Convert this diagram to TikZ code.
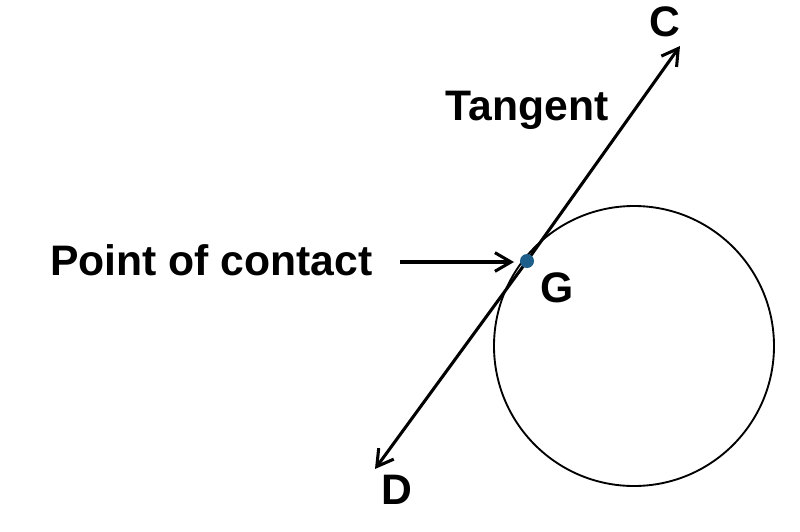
\documentclass[tikz,border=0pt]{standalone}
\usepackage{fontspec}
\setmainfont{Liberation Sans}
\usetikzlibrary{arrows.meta}
\begin{document}
\begin{tikzpicture}[x=0.75pt,y=-0.75pt,
  lbl/.style={font=\fontsize{32}{36}\selectfont\bfseries,inner sep=0pt},
  arr/.style={line width=2.3pt,-{Straight Barb[length=12pt,width=14pt,line width=2.3pt]}}]
\useasboundingbox (0,0) rectangle (800,532);
\draw[line width=1.4pt] (634,346) circle[radius=140];
\coordinate (G) at (527,261);
\coordinate (Cend) at (680,46);
\coordinate (Dend) at (375,469);
\draw[arr] (G) -- (Cend);
\draw[arr] (G) -- (Dend);
\fill[fill={rgb,255:red,30;green,95;blue,140}] (G) circle[radius=7];
\node[lbl] (C) at (665,22) {C};
\node[lbl] (D) at (397,490) {D};
\node[lbl] (Gl) at (557,288) {G};
\node[lbl] (tan) at (527,110) {Tangent};
\node[lbl,anchor=west] (poc) at (50,260) {Point of contact};
\draw[arr] (400,262) -- (514,262);
\end{tikzpicture}
\end{document}
